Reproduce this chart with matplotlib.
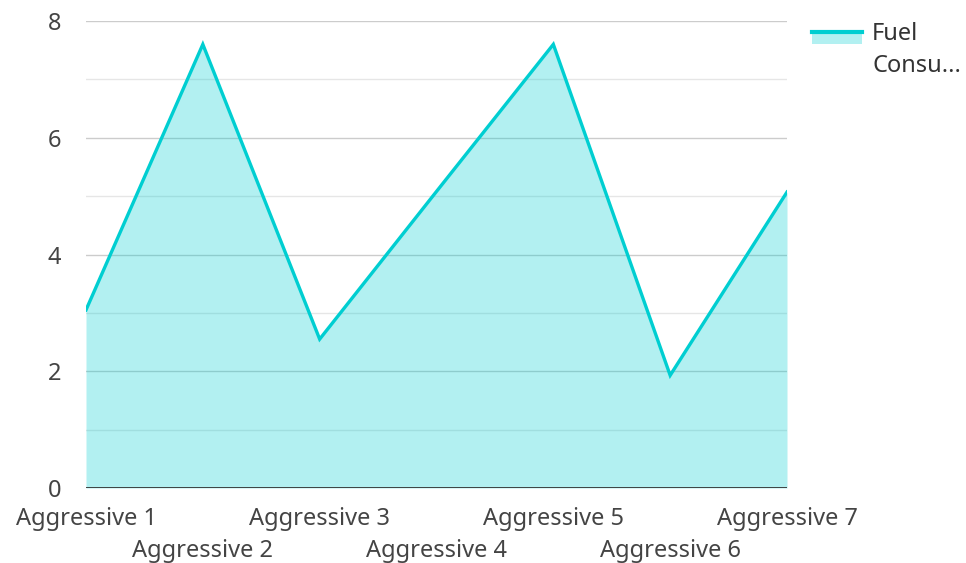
import matplotlib
matplotlib.use("Agg")
import matplotlib.pyplot as plt
from matplotlib.lines import Line2D
from matplotlib.patches import Rectangle

plt.rcParams['font.family'] = ['Noto Sans', 'DejaVu Sans']

categories = ["Aggressive 1", "Aggressive 2", "Aggressive 3", "Aggressive 4",
              "Aggressive 5", "Aggressive 6", "Aggressive 7"]
fuel_consumption = [3.05, 7.6, 2.55, 5.08, 7.6, 1.93, 5.07]
series_name = "Fuel\nConsu..."
y_ticks = [0, 2, 4, 6, 8]

line_color = "#00CED1"
fill_alpha = 0.3
fs = 17

fig = plt.figure(figsize=(9.66, 5.63), dpi=100)
ax = fig.add_axes([86 / 966, 1 - 488 / 563, (787 - 86) / 966, (488 - 21) / 563])

x = list(range(len(categories)))
ax.fill_between(x, 0, fuel_consumption, color=line_color, alpha=fill_alpha,
                linewidth=0, zorder=2)
ax.plot(x, fuel_consumption, color=line_color, linewidth=2.4, zorder=3,
        solid_joinstyle="miter")

ax.set_xlim(0, len(categories) - 1)
ax.set_ylim(0, 8)

# major (even) and minor (odd) horizontal gridlines, seen through the fill
for v in range(1, 9):
    ax.axhline(v, color="#cccccc" if v % 2 == 0 else "#e6e6e6",
               linewidth=1.0, zorder=1)
ax.axhline(0, color="#333333", linewidth=2.0, zorder=4)

ax.set_yticks(y_ticks)
ax.set_yticklabels([str(t) for t in y_ticks])

# category labels staggered on two rows: first row as major ticks,
# second row as minor ticks with a larger pad
ax.set_xticks(x[0::2])
ax.set_xticklabels(categories[0::2])
ax.set_xticks(x[1::2], minor=True)
ax.set_xticklabels(categories[1::2], minor=True)
ax.tick_params(axis="both", which="both", length=0, labelsize=fs,
               labelcolor="#444444")
ax.tick_params(axis="y", pad=18)
ax.tick_params(axis="x", which="major", pad=14)
ax.tick_params(axis="x", which="minor", pad=36.5)
for s in ax.spines.values():
    s.set_visible(False)

# legend swatch
fig.add_artist(Rectangle((812 / 966, 1 - 44 / 563), 50 / 966, 10 / 563,
                         transform=fig.transFigure, facecolor=line_color,
                         alpha=fill_alpha, edgecolor="none"))
fig.add_artist(Line2D([812 / 966, 862 / 966], [1 - 32 / 563, 1 - 32 / 563],
                      transform=fig.transFigure, color=line_color, linewidth=3))
fig.text(872 / 966, 1 - 22 / 563, series_name, ha="left", va="top",
         fontsize=fs, color="#333333", linespacing=1.45)

fig.savefig("out.png", dpi=100)
